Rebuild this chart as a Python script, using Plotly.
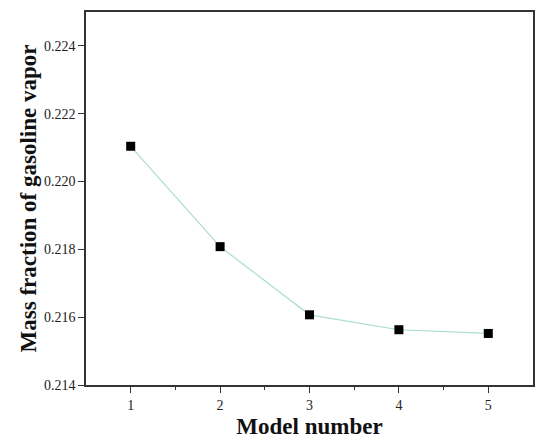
import plotly.graph_objects as go

models = [1, 2, 3, 4, 5]
mass_fraction = [0.22104, 0.21808, 0.21607, 0.21563, 0.21552]
y_ticks = [0.214, 0.216, 0.218, 0.220, 0.222, 0.224]
x_ticks = [1, 2, 3, 4, 5]

fig = go.Figure(go.Scatter(
    x=models, y=mass_fraction, mode='lines+markers',
    line=dict(color='#a9dcd2', width=1.2),
    marker=dict(symbol='square', size=9, color='black')))

axis_font = dict(family='Liberation Serif', size=14, color='#222')
title_font = dict(family='Liberation Serif', size=23, color='#111')

# page body adds an 8px offset, so the figure is a bit smaller than the window
fig.update_layout(
    width=542, height=435,
    margin=dict(l=78, r=17, t=4, b=58),
    plot_bgcolor='white', paper_bgcolor='white',
    showlegend=False,
    xaxis=dict(range=[0.5, 5.5], tickvals=x_ticks, ticks='outside', ticklen=6,
               tickcolor='#333', showline=True, linecolor='#333', linewidth=1.5,
               mirror=True, showgrid=False, zeroline=False, tickfont=axis_font,
               automargin=False,
               minor=dict(tickvals=[1.5, 2.5, 3.5, 4.5], ticks='outside',
                          ticklen=3, tickcolor='#333'),
               title=dict(text='<b>Model number</b>', font=title_font, standoff=6)),
    yaxis=dict(range=[0.214, 0.225], tickvals=y_ticks, tickformat='.3f',
               ticks='outside', ticklen=6, tickcolor='#333', showline=True,
               linecolor='#333', linewidth=1.5, mirror=True, showgrid=False,
               zeroline=False, tickfont=axis_font, automargin=False,
               title=dict(text='<b>Mass fraction of gasoline vapor</b>',
                          font=title_font, standoff=1)),
)

fig.write_html("out.html")
